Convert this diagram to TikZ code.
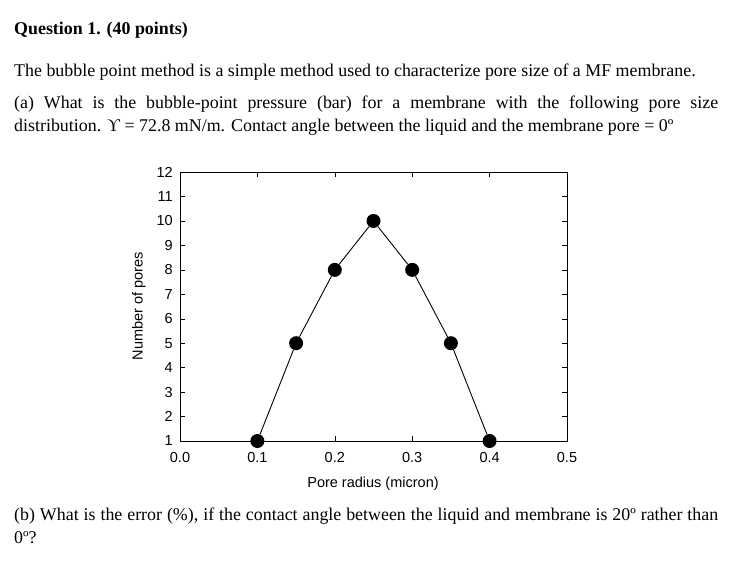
\documentclass[tikz,border=0pt]{standalone}
\usepackage{fontspec}
\setmainfont{Liberation Serif}
\setsansfont{Liberation Sans}
\begin{document}
\begin{tikzpicture}[x=1pt,y=-1pt,
  body/.style={anchor=north west,inner sep=0,font=\fontsize{17.9}{23}\selectfont,text width=704pt,align=justify},
  tick/.style={font=\sffamily\fontsize{14.5}{16}\selectfont,inner sep=1pt},
  dot/.style={circle,fill=black,inner sep=0,minimum size=14pt}]
\useasboundingbox (0,0) rectangle (742,566);
\node[body,anchor=west] (q) at (14,30) {\textbf{Question 1. (40 points)}};
\node[body,anchor=west] (p1) at (14,72) {The bubble point method is a simple method used to characterize pore size of a MF membrane.};
\node[body,anchor=north west] (p2) at (14,96) {(a) What is the bubble-point pressure (bar) for a membrane with the following pore size\linebreak distribution. ϒ = 72.8 mN/m. Contact angle between the liquid and the membrane pore = 0º};
\node[body,anchor=north west] (p3) at (14,508) {(b) What is the error (\%), if the contact angle between the liquid and membrane is 20º rather than 0º?};
\draw[line width=1pt] (180,172) rectangle (567,441);
\foreach \i/\l in {0/0.0,1/0.1,2/0.2,3/0.3,4/0.4,5/0.5}{
  \pgfmathsetmacro\xx{180+77.4*\i}
  \draw (\xx,441) -- (\xx,436) (\xx,172) -- (\xx,177);
  \node[tick,anchor=north] (xl\i) at (\xx,451) {\l};
}
\foreach \v in {1,...,12}{
  \pgfmathsetmacro\yy{441-24.45*(\v-1)}
  \draw (180,\yy) -- (185,\yy) (567,\yy) -- (562,\yy);
  \node[tick,anchor=east] (yl\v) at (174,\yy) {\v};
}
\node[tick,anchor=north] (xt) at (373,476) {Pore radius (micron)};
\node[tick,rotate=90] (yt) at (139,306) {Number of pores};
\foreach \n/\x/\y in {a/0.1/1,b/0.15/5,c/0.2/8,d/0.25/10,e/0.3/8,f/0.35/5,g/0.4/1}{
  \node[dot] (\n) at ({180+774*\x},{441-24.45*(\y-1)}) {};
}
\draw[line width=0.9pt] (a) -- (b) -- (c) -- (d) -- (e) -- (f) -- (g);
\end{tikzpicture}
\end{document}
